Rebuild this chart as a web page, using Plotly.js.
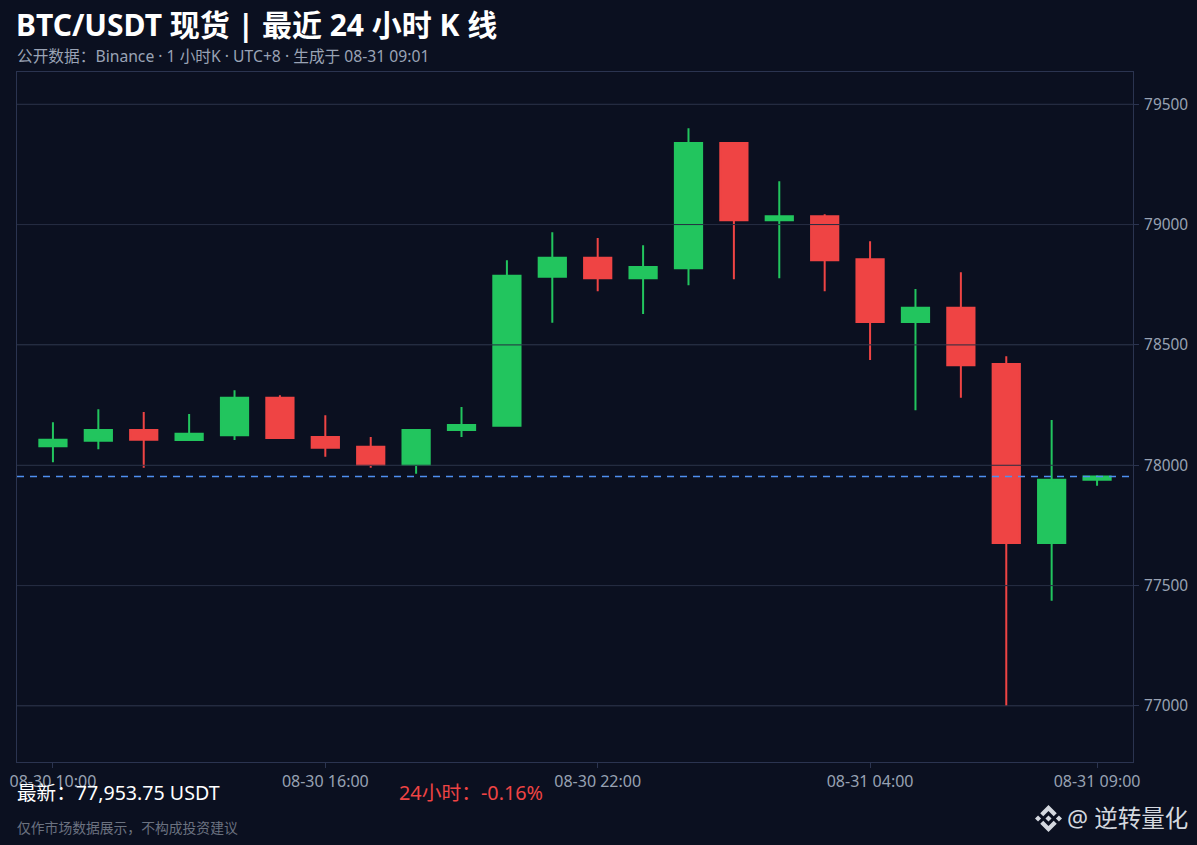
<!DOCTYPE html>
<html>
<head>
<meta charset="utf-8">
<script src="https://cdn.plot.ly/plotly-3.0.1.min.js"></script>
<style>
  html, body { margin: 0; padding: 0; background: #0b1020; }
  #chart { width: 1197px; height: 845px; }
</style>
</head>
<body>
<div id="chart"></div>
<script>
// ---- data ----
var times = [
  '2025-08-30 10:00', '2025-08-30 11:00', '2025-08-30 12:00', '2025-08-30 13:00',
  '2025-08-30 14:00', '2025-08-30 15:00', '2025-08-30 16:00', '2025-08-30 17:00',
  '2025-08-30 18:00', '2025-08-30 19:00', '2025-08-30 20:00', '2025-08-30 21:00',
  '2025-08-30 22:00', '2025-08-30 23:00', '2025-08-31 00:00', '2025-08-31 01:00',
  '2025-08-31 02:00', '2025-08-31 03:00', '2025-08-31 04:00', '2025-08-31 05:00',
  '2025-08-31 06:00', '2025-08-31 07:00', '2025-08-31 08:00', '2025-08-31 09:00'
];
var openP  = [78078.6, 78102, 78146, 78105, 78125, 78280, 78117, 78077, 78001, 78146, 78164, 78783,
              78862, 78777, 78819, 79339, 79018, 79035, 78856, 78595, 78654, 78421, 77677, 77940];
var highP  = [78179, 78233, 78221, 78213, 78312, 78291, 78208, 78117, 78148, 78242, 78852, 78968,
              78944, 78914, 79400, 79342, 79180, 79043, 78931, 78732, 78802, 78453, 78188, 77958];
var lowP   = [78013, 78067, 77990, 78103, 78105, 78112, 78035, 77990, 77965, 78117, 78160, 78592,
              78723, 78628, 78748, 78773, 78777, 78723, 78437, 78229, 78280, 77001, 77437, 77915];
var closeP = [78106, 78146, 78106, 78131, 78280, 78113, 78073, 78001, 78146, 78167, 78787, 78862,
              78777, 78824, 79339, 79018, 79035, 78852, 78595, 78654, 78415, 77677, 77940, 77953.75];

var xTickVals = ['2025-08-30 10:00', '2025-08-30 16:00', '2025-08-30 22:00', '2025-08-31 04:00', '2025-08-31 09:00'];
var xTickText = ['08-30 10:00', '08-30 16:00', '08-30 22:00', '08-31 04:00', '08-31 09:00'];
var yTickVals = [77000, 77500, 78000, 78500, 79000, 79500];
var xRange = ['2025-08-30 09:12:30', '2025-08-31 09:47:30'];

var titleText = 'BTC/USDT 现货 | 最近 24 小时 K 线';
var subtitleText = '公开数据：Binance · 1 小时K · UTC+8 · 生成于 08-31 09:01';
var disclaimerText = '仅作市场数据展示，不构成投资建议';
var watermarkText = '@ 逆转量化';

// ---- derived ----
var lastPrice = closeP[closeP.length - 1];
var changePct = (lastPrice - openP[0]) / openP[0] * 100;
var lastText = '最新：' + lastPrice.toLocaleString('en-US', {minimumFractionDigits: 2, maximumFractionDigits: 2}) + ' USDT';
var changeText = '24小时：' + (changePct >= 0 ? '+' : '') + changePct.toFixed(2) + '%';

var lo = Math.min.apply(null, lowP), hi = Math.max.apply(null, highP);
var pad = (hi - lo) * 0.0975;
var yRange = [lo - pad, hi + pad];

// ---- layout helpers (plot area in px) ----
var W = 1197, H = 845, L = 17, R = 1133, T = 72, B = 762;
function px(x) { return (x - L) / (R - L); }
function py(y) { return (B - y) / (B - T); }

var GREEN = '#22c55e', RED = '#ef4444';
var GRID = '#252c40', FRAME = '#2b3450', TICK = '#98a2b3';
var FONT = 'Noto Sans, Noto Sans CJK SC, sans-serif';

var trace = {
  type: 'candlestick',
  x: times, open: openP, high: highP, low: lowP, close: closeP,
  increasing: { line: { color: GREEN, width: 2 }, fillcolor: GREEN },
  decreasing: { line: { color: RED, width: 2 }, fillcolor: RED },
  whiskerwidth: 0,
  hoverinfo: 'skip',
  showlegend: false
};

var shapes = yTickVals.map(function (v) {
  return { type: 'line', xref: 'paper', x0: 0, x1: 1, yref: 'y', y0: v, y1: v,
           layer: 'above', line: { color: GRID, width: 1 } };
});
shapes.push({ type: 'line', xref: 'paper', x0: 0, x1: 1, yref: 'y', y0: lastPrice, y1: lastPrice,
              layer: 'above', line: { color: '#4f8ff0', width: 1.5, dash: '7px,6px' } });

var logoSvg = '<svg xmlns="http://www.w3.org/2000/svg" viewBox="0 0 24 24"><path fill="#d4d8df" d="M16.624 13.9202l2.7175 2.7154-7.353 7.353-7.353-7.352 2.7175-2.7164 4.6355 4.6595 4.6356-4.6595zm4.6366-4.6366L24 12l-2.7154 2.7164L18.5682 12l2.6924-2.7164zm-9.272.001l2.7163 2.6914-2.7164 2.7174v-.001L9.2721 12l2.7164-2.7154zm-9.2722-.001L5.4088 12l-2.6914 2.6924L0 12l2.7164-2.7164zM11.9885.0115l7.353 7.329-2.7174 2.7154-4.6356-4.6356-4.6355 4.6595-2.7174-2.7154 7.353-7.353z"/></svg>';
var logoUri = 'data:image/svg+xml;base64,' + btoa(logoSvg);

var layout = {
  width: W, height: H,
  paper_bgcolor: '#0b1020', plot_bgcolor: '#0b1020',
  margin: { l: L, r: W - R, t: T, b: H - B, pad: 0 },
  font: { family: FONT, color: TICK },
  boxgap: 0.4, boxgroupgap: 0,
  title: {
    text: titleText,
    font: { family: FONT, size: 30, color: '#ffffff', weight: 700 },
    x: 16 / W, xref: 'container', xanchor: 'left',
    y: 1 - 25 / H, yref: 'container', yanchor: 'middle'
  },
  xaxis: {
    type: 'date', range: xRange,
    rangeslider: { visible: false },
    tickvals: xTickVals, ticktext: xTickText,
    showgrid: false, zeroline: false,
    showline: true, mirror: true, linecolor: FRAME, linewidth: 1,
    ticks: 'outside', ticklen: 5, tickcolor: FRAME,
    tickfont: { family: FONT, size: 16, color: TICK },
    fixedrange: true
  },
  yaxis: {
    side: 'right', range: yRange,
    tickvals: yTickVals, tickformat: 'd',
    showgrid: true, gridcolor: GRID, zeroline: false,
    showline: true, mirror: true, linecolor: FRAME, linewidth: 1,
    ticks: 'outside', ticklen: 5, tickcolor: FRAME,
    ticklabelstandoff: 2,
    tickfont: { family: FONT, size: 15.4, color: TICK },
    fixedrange: true
  },
  shapes: shapes,
  images: [{
    source: logoUri, xref: 'paper', yref: 'paper',
    x: px(1035), y: py(805), sizex: 27 / (R - L), sizey: 27 / (B - T),
    xanchor: 'left', yanchor: 'top', sizing: 'contain', layer: 'above'
  }],
  annotations: [
    { text: subtitleText, xref: 'paper', yref: 'paper', x: px(17), y: py(56), xshift: -2,
      xanchor: 'left', yanchor: 'middle', showarrow: false,
      font: { family: FONT, size: 15.7, color: '#9aa3b5' } },
    { text: lastText, xref: 'paper', yref: 'paper', x: px(17), y: py(792), xshift: -2,
      xanchor: 'left', yanchor: 'middle', showarrow: false,
      font: { family: FONT, size: 19.6, color: '#ffffff' } },
    { text: changeText, xref: 'paper', yref: 'paper', x: px(399), y: py(792), xshift: -2,
      xanchor: 'left', yanchor: 'middle', showarrow: false,
      font: { family: FONT, size: 19.8, color: changePct >= 0 ? GREEN : RED } },
    { text: disclaimerText, xref: 'paper', yref: 'paper', x: px(17), y: py(827), xshift: -2,
      xanchor: 'left', yanchor: 'middle', showarrow: false,
      font: { family: FONT, size: 13.8, color: '#6b7280' } },
    { text: watermarkText, xref: 'paper', yref: 'paper', x: px(1190), y: py(818),
      xanchor: 'right', yanchor: 'middle', showarrow: false,
      font: { family: FONT, size: 23.5, color: '#d4d8df' } }
  ]
};

Plotly.newPlot('chart', [trace], layout, { displayModeBar: false, staticPlot: true });
</script>
</body>
</html>
